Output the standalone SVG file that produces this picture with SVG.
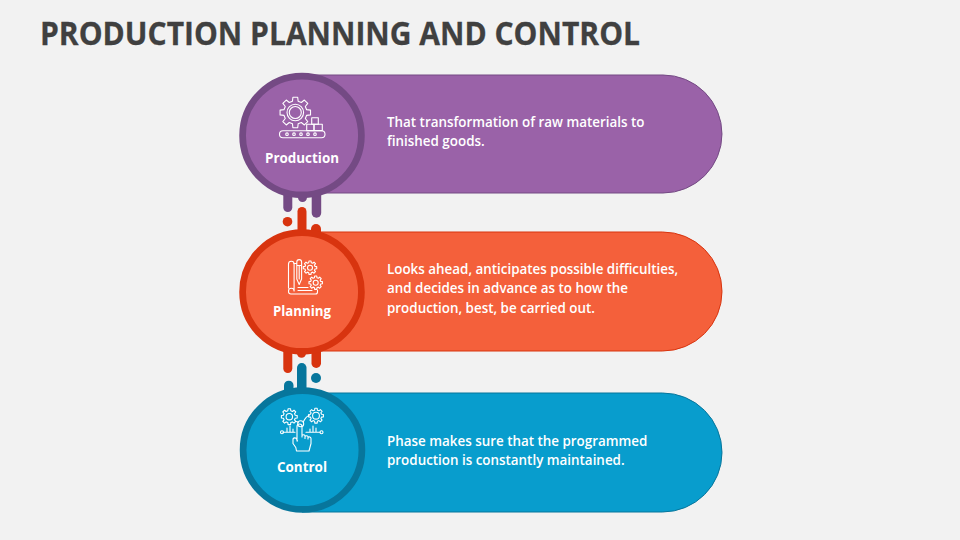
<svg xmlns="http://www.w3.org/2000/svg" width="960" height="540" viewBox="0 0 960 540">
<style>
text{font-family:"Open Sans","Noto Sans","Liberation Sans",sans-serif}
.title{font-size:33px;font-weight:700;fill:#404040;stroke:#404040;stroke-width:.3}
.lab{font-size:14.500px;font-weight:700;fill:#fff;text-anchor:middle}
.body{font-size:13.400px;font-weight:600;fill:#fff}
.ic{fill:none;stroke:#fff;stroke-width:1.100;stroke-linejoin:round;stroke-linecap:round}
.gr{vector-effect:non-scaling-stroke}
.pu{fill:#9A62A8}.pud{fill:#744A84}
.re{fill:#F4603B}.red{fill:#D8340F}
.bl{fill:#089DCD}.bld{fill:#07769C}
</style>
<defs>
<path id="gear" class="gr" d="M-1.840-7.370L-1.560-9.880L1.560-9.880L1.840-7.370L3.910-6.510L5.880-8.090L8.090-5.880L6.510-3.910L7.370-1.840L9.880-1.560L9.880 1.560L7.370 1.840L6.510 3.910L8.090 5.880L5.880 8.090L3.910 6.510L1.840 7.370L1.560 9.880L-1.560 9.880L-1.840 7.370L-3.910 6.510L-5.880 8.090L-8.090 5.880L-6.510 3.910L-7.370 1.840L-9.880 1.560L-9.880-1.560L-7.370-1.840L-6.510-3.910L-8.090-5.880L-5.880-8.090L-3.910-6.510Z"/>
</defs>
<rect width="960" height="540" fill="#F2F2F2"/>
<text class="title" x="40" y="45" textLength="600" lengthAdjust="spacingAndGlyphs">PRODUCTION PLANNING AND CONTROL</text>
<g id="connectors">
<rect class="pud" x="283.300" y="185" width="9" height="27" rx="4.500"/>
<rect class="pud" x="298" y="185" width="9" height="17" rx="4.500"/>
<rect class="pud" x="311.700" y="185" width="9.500" height="32.700" rx="4.700"/>
<circle class="red" cx="287.500" cy="221.700" r="4.800"/>
<rect class="red" x="297.500" y="207" width="9" height="35" rx="4.500"/>
<rect class="red" x="311" y="224" width="10" height="20" rx="5"/>
<rect class="red" x="283.300" y="345" width="9" height="28" rx="4.500"/>
<rect class="red" x="297" y="345" width="9" height="12.700" rx="4.500"/>
<rect class="red" x="311.500" y="345" width="9.500" height="23" rx="4.700"/>
<rect class="bld" x="284" y="380.700" width="9.500" height="20" rx="4.700"/>
<rect class="bld" x="297" y="363" width="9.500" height="35" rx="4.700"/>
<circle class="bld" cx="316" cy="378" r="5"/>
</g>
<g id="production">
<path class="pu" d="M302 75H663a59 59 0 0 1 0 118H302Z" stroke="#744A84"/>
<circle class="pu" cx="302" cy="135.500" r="59.400" stroke="#744A84" stroke-width="6.700"/>
<g class="ic">
<use href="#gear" transform="translate(295.300 112.500) scale(1.540)"/>
<circle cx="295.300" cy="112.500" r="8.300"/><circle cx="295.300" cy="112.500" r="6"/>
<rect x="311.700" y="117.700" width="6.600" height="6.600"/><rect x="306.700" y="124.300" width="7.300" height="6.300"/><rect x="314" y="124.300" width="8.300" height="6.300"/>
<rect x="279.500" y="130.700" width="45.500" height="7" rx="3.500"/>
<circle cx="287" cy="134.200" r="1.300"/><circle cx="294" cy="134.200" r="1.300"/><circle cx="301" cy="134.200" r="1.300"/><circle cx="308" cy="134.200" r="1.300"/><circle cx="315" cy="134.200" r="1.300"/>
</g>
<text class="lab" x="302" y="162.500" textLength="74" lengthAdjust="spacingAndGlyphs">Production</text>
<text class="body"><tspan x="387" y="127">That transformation of raw materials to</tspan><tspan x="387" y="146">finished goods.</tspan></text>
</g>
<g id="planning">
<path class="re" d="M302 232H662.500a59.500 59.500 0 0 1 0 119H302Z" stroke="#D8340F"/>
<circle class="re" cx="302" cy="292" r="59.400" stroke="#D8340F" stroke-width="6.700"/>
<g class="ic">
<path d="M288.500 288v-24a2.800 2.800 0 0 1 5.600 0v27a2.800 2.800 0 0 0-5.600 0v0.500a2.500 2.500 0 0 0 2.500 2.500h24.500a2 2 0 0 0 2-2v-2"/>
<path d="M294 263.500h2.500"/>
<path d="M296.800 262a2.400 2.400 0 0 1 4.800 0v17l-2.400 5.500-2.400-5.500zM296.800 265.500h4.800M299.200 266v13"/>
<path d="M298 287.500h7M298 290.500h14M303 287.500h5"/>
<use href="#gear" transform="translate(310 267.700) scale(.680)"/>
<circle cx="310" cy="267.700" r="2.500"/>
<use href="#gear" transform="translate(315.700 282.700) scale(.680)"/>
<circle cx="315.700" cy="282.700" r="2.500"/>
</g>
<text class="lab" x="302" y="316" textLength="58" lengthAdjust="spacingAndGlyphs">Planning</text>
<text class="body"><tspan x="387" y="274">Looks ahead, anticipates possible difficulties,</tspan><tspan x="387" y="293">and decides in advance as to how the</tspan><tspan x="387" y="313">production, best, be carried out.</tspan></text>
</g>
<g id="control">
<path class="bl" d="M302 393H662.500a59.500 59.500 0 0 1 0 119H302Z" stroke="#07769C"/>
<circle class="bl" cx="302.500" cy="450" r="59.400" stroke="#07769C" stroke-width="6.700"/>
<g class="ic">
<use href="#gear" transform="translate(289.300 416.700) scale(.800)"/>
<circle cx="289.300" cy="416.700" r="3.200"/>
<use href="#gear" transform="translate(316 415.700) scale(.750)"/><circle cx="316" cy="415.700" r="3.400"/>
<circle cx="300.700" cy="423.700" r="3"/>
<path d="M296.500 421.500l1.700 .8M303.200 422q3-6 6-6.500"/>
<path d="M283 432.300h12M306 432.300h14M287 432v-4M290 432v-6M293 432v-3M310 432v-3M313 432v-6M316 432v-4"/>
<circle cx="282" cy="432.300" r="1.500"/><circle cx="321.500" cy="432.300" r="1.500"/>
<path d="M297 441v-14.500a2.500 2.500 0 0 1 5 0v10.500M302 435.500a1.800 1.800 0 0 1 3 0v3M305 436.500a1.800 1.800 0 0 1 3 0v2.500M308 437.500a1.700 1.700 0 0 1 3 1v5l-2 7.500h-12.500l-.7-3.500-2.800-4v-3.500a1.800 1.800 0 0 1 3.800-.5l.7 1.500"/>
</g>
<text class="lab" x="302" y="471.500" textLength="50" lengthAdjust="spacingAndGlyphs">Control</text>
<text class="body"><tspan x="387" y="446">Phase makes sure that the programmed</tspan><tspan x="387" y="465">production is constantly maintained.</tspan></text>
</g>
</svg>
